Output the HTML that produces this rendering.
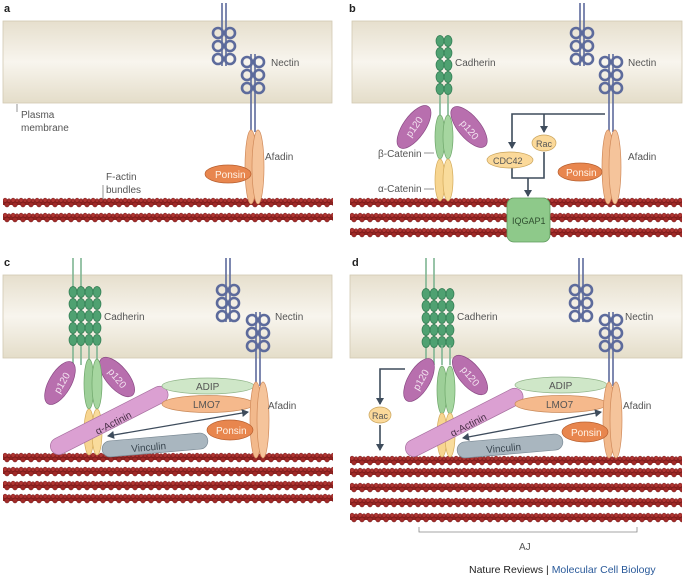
<!DOCTYPE html>
<html><head><meta charset="utf-8"><style>
html,body{margin:0;padding:0;background:#fff}
svg{display:block}
text{font-family:"Liberation Sans",sans-serif;font-size:10px;fill:#555}
.pl{font-weight:bold;font-size:11px;fill:#222}
</style></head><body>
<svg width="685" height="577" viewBox="0 0 685 577" xmlns="http://www.w3.org/2000/svg">
<defs>
<linearGradient id="mem" x1="0" y1="0" x2="0" y2="1">
<stop offset="0" stop-color="#e6dfcd"/><stop offset="0.5" stop-color="#f8f5ee"/><stop offset="1" stop-color="#e4ddc9"/>
</linearGradient>
<pattern id="act" patternUnits="userSpaceOnUse" x="0" y="0" width="8" height="11">
<rect x="0" y="3" width="8" height="5" fill="#8e2220"/>
<circle cx="2.1" cy="3.2" r="2.1" fill="#b03532" stroke="#741616" stroke-width="0.5"/>
<circle cx="6" cy="3.6" r="1.9" fill="#a8302e" stroke="#741616" stroke-width="0.5"/>
<circle cx="4" cy="7.6" r="2.4" fill="#a02a28" stroke="#741616" stroke-width="0.5"/>
</pattern>
<rect id="rowA" x="0" y="0" width="330" height="11" fill="url(#act)"/>
<rect id="rowB" x="0" y="0" width="332" height="11" fill="url(#act)"/>
<g id="loops" fill="none" stroke="#5d6b9c" stroke-width="2.6">
<circle cx="-6" cy="0" r="5"/><circle cx="6" cy="0" r="5"/>
<circle cx="-6" cy="13" r="5"/><circle cx="6" cy="13" r="5"/>
<circle cx="-6" cy="26" r="5"/><circle cx="6" cy="26" r="5"/>
</g>
<g id="bead2" fill="#4fa171" stroke="#2f7a50" stroke-width="0.7">
<ellipse cx="0" cy="0" rx="4" ry="5.5"/><ellipse cx="0" cy="12" rx="4" ry="5.5"/><ellipse cx="0" cy="24" rx="4" ry="5.5"/><ellipse cx="0" cy="36" rx="4" ry="5.5"/><ellipse cx="0" cy="48" rx="4" ry="5.5"/>
</g>
<marker id="ah" markerWidth="8" markerHeight="8" refX="6" refY="4" orient="auto" markerUnits="userSpaceOnUse"><path d="M0,0 L7,4 L0,8 z" fill="#3e4c5c"/></marker>
<marker id="ahs" markerWidth="8" markerHeight="8" refX="1" refY="4" orient="auto" markerUnits="userSpaceOnUse"><path d="M7,0 L0,4 L7,8 z" fill="#3e4c5c"/></marker>
</defs>

<text x="4" y="12" class="pl">a</text>
<text x="349" y="12" class="pl">b</text>
<text x="4" y="266" class="pl">c</text>
<text x="352" y="266" class="pl">d</text>

<rect x="3" y="21" width="329" height="82" fill="url(#mem)" stroke="#d2c9b2" stroke-width="0.8"/>
<rect x="352" y="21" width="330" height="82" fill="url(#mem)" stroke="#d2c9b2" stroke-width="0.8"/>
<rect x="3" y="275" width="329" height="83" fill="url(#mem)" stroke="#d2c9b2" stroke-width="0.8"/>
<rect x="350" y="275" width="332" height="83" fill="url(#mem)" stroke="#d2c9b2" stroke-width="0.8"/>

<use href="#rowA" transform="translate(3,197)"/><use href="#rowA" transform="translate(3,212)"/>
<use href="#rowB" transform="translate(350,197)"/><use href="#rowB" transform="translate(350,212)"/><use href="#rowB" transform="translate(350,227)"/>
<use href="#rowA" transform="translate(3,452)"/><use href="#rowA" transform="translate(3,466)"/><use href="#rowA" transform="translate(3,480)"/><use href="#rowA" transform="translate(3,493)"/>
<use href="#rowB" transform="translate(350,455)"/><use href="#rowB" transform="translate(350,467)"/><use href="#rowB" transform="translate(350,482)"/><use href="#rowB" transform="translate(350,497)"/><use href="#rowB" transform="translate(350,512)"/>

<!-- Panel a -->
<g stroke="#5d6b9c" stroke-width="1.6">
<line x1="222" y1="3" x2="222" y2="66"/><line x1="226" y1="3" x2="226" y2="66"/>
<line x1="251" y1="54" x2="251" y2="132"/><line x1="255" y1="54" x2="255" y2="132"/>
</g>
<use href="#loops" x="224" y="33"/><use href="#loops" x="253" y="62"/>
<ellipse cx="251" cy="167" rx="6" ry="37" fill="#f2b98c" stroke="#d08a5a" stroke-width="0.7"/>
<ellipse cx="258" cy="167" rx="6" ry="37" fill="#f5c49b" stroke="#d08a5a" stroke-width="0.7"/>
<ellipse cx="228" cy="174" rx="23" ry="9" fill="#e8864e" stroke="#b86030" stroke-width="0.7"/>
<text x="215" y="178" style="fill:#fff4e8">Ponsin</text>
<text x="271" y="66">Nectin</text>
<text x="265" y="160">Afadin</text>
<line x1="17" y1="104" x2="17" y2="112" stroke="#666" stroke-width="0.7"/>
<text x="21" y="118">Plasma</text><text x="21" y="131">membrane</text>
<line x1="103" y1="185" x2="103" y2="200" stroke="#666" stroke-width="0.7"/>
<text x="106" y="180">F-actin</text><text x="106" y="193">bundles</text>

<!-- Panel b -->
<g stroke="#5d6b9c" stroke-width="1.6">
<line x1="580" y1="3" x2="580" y2="66"/><line x1="584" y1="3" x2="584" y2="66"/>
<line x1="609" y1="54" x2="609" y2="132"/><line x1="613" y1="54" x2="613" y2="132"/>
</g>
<use href="#loops" x="582" y="33"/><use href="#loops" x="611" y="62"/>
<ellipse cx="608" cy="167" rx="6" ry="37" fill="#f2b98c" stroke="#d08a5a" stroke-width="0.7"/>
<ellipse cx="615" cy="167" rx="6" ry="37" fill="#f5c49b" stroke="#d08a5a" stroke-width="0.7"/>
<text x="628" y="66">Nectin</text>
<text x="628" y="160">Afadin</text>
<ellipse cx="580" cy="172" rx="22" ry="9" fill="#e8864e" stroke="#b86030" stroke-width="0.7"/>
<text x="566" y="176" style="fill:#fff4e8">Ponsin</text>
<g stroke="#7fb592" stroke-width="1.6"><line x1="440" y1="40" x2="440" y2="118"/><line x1="448" y1="40" x2="448" y2="118"/></g>
<use href="#bead2" x="440" y="41"/><use href="#bead2" x="448" y="41"/>
<text x="455" y="66">Cadherin</text>
<ellipse cx="414" cy="127" rx="25" ry="11" transform="rotate(-55 414 127)" fill="#b86fae" stroke="#8a4a84" stroke-width="0.7"/>
<ellipse cx="469" cy="127" rx="25" ry="11" transform="rotate(50 469 127)" fill="#b86fae" stroke="#8a4a84" stroke-width="0.7"/>
<text x="404" y="133" transform="rotate(-55 412 129)" style="fill:#f3e3f0">p120</text>
<text x="460" y="131" transform="rotate(50 468 127)" style="fill:#f3e3f0">p120</text>
<ellipse cx="440" cy="137" rx="5" ry="22" fill="#9dcf98" stroke="#6ea66a" stroke-width="0.7"/>
<ellipse cx="448" cy="137" rx="5" ry="22" fill="#a6d6a0" stroke="#6ea66a" stroke-width="0.7"/>
<ellipse cx="440" cy="180" rx="5" ry="21" fill="#f7d590" stroke="#d4aa5a" stroke-width="0.7"/>
<ellipse cx="448" cy="180" rx="5" ry="21" fill="#f9dc9c" stroke="#d4aa5a" stroke-width="0.7"/>
<text x="378" y="157">β-Catenin</text><line x1="424" y1="153" x2="434" y2="153" stroke="#666" stroke-width="0.7"/>
<text x="378" y="192">α-Catenin</text><line x1="424" y1="189" x2="434" y2="189" stroke="#666" stroke-width="0.7"/>
<g fill="none" stroke="#3e4c5c" stroke-width="1.6">
<path d="M605 114 H512 V148" marker-end="url(#ah)"/>
<path d="M544 114 V132" marker-end="url(#ah)"/>
<path d="M512 168 V178 H544 V152"/>
<path d="M528 178 V196" marker-end="url(#ah)"/>
</g>
<ellipse cx="544" cy="143" rx="12" ry="8" fill="#fbd99a" stroke="#c9a35a" stroke-width="0.7"/>
<text x="536" y="147" style="font-size:9px">Rac</text>
<ellipse cx="510" cy="160" rx="23" ry="8" fill="#fbd99a" stroke="#c9a35a" stroke-width="0.7"/>
<text x="493" y="164" style="font-size:9px">CDC42</text>
<rect x="507" y="198" width="43" height="44" rx="7" fill="#8ec98a" stroke="#5f9a5c" stroke-width="0.8"/>
<text x="512" y="224" style="font-size:9px;fill:#2f4f2f">IQGAP1</text>

<!-- Panel c -->
<g>
<g stroke="#5d6b9c" stroke-width="1.6">
<line x1="226" y1="258" x2="226" y2="322"/><line x1="230" y1="258" x2="230" y2="322"/>
<line x1="256" y1="312" x2="256" y2="386"/><line x1="260" y1="312" x2="260" y2="386"/>
</g>
<use href="#loops" x="228" y="290"/><use href="#loops" x="258" y="320"/>
<g stroke="#7fb592" stroke-width="1.6"><line x1="73" y1="258" x2="73" y2="365"/><line x1="81" y1="258" x2="81" y2="365"/></g>
<use href="#bead2" x="73" y="292"/><use href="#bead2" x="81" y="292"/><use href="#bead2" x="89" y="292"/><use href="#bead2" x="97" y="292"/>
<line x1="89" y1="345" x2="89" y2="362" stroke="#7fb592" stroke-width="1.6"/><line x1="97" y1="345" x2="97" y2="362" stroke="#7fb592" stroke-width="1.6"/>
<ellipse cx="60" cy="383" rx="24" ry="11" transform="rotate(-60 60 383)" fill="#b86fae" stroke="#8a4a84" stroke-width="0.7"/>
<ellipse cx="117" cy="377" rx="24" ry="11" transform="rotate(50 117 377)" fill="#b86fae" stroke="#8a4a84" stroke-width="0.7"/>
<text x="50" y="388" transform="rotate(-60 60 383)" style="fill:#f3e3f0">p120</text>
<text x="107" y="381" transform="rotate(50 117 377)" style="fill:#f3e3f0">p120</text>
<ellipse cx="89" cy="384" rx="5" ry="25" fill="#9dcf98" stroke="#6ea66a" stroke-width="0.7"/>
<ellipse cx="97" cy="384" rx="5" ry="25" fill="#a6d6a0" stroke="#6ea66a" stroke-width="0.7"/>
<ellipse cx="89" cy="432" rx="5" ry="23" fill="#f7d590" stroke="#d4aa5a" stroke-width="0.7"/>
<ellipse cx="97" cy="432" rx="5" ry="23" fill="#f9dc9c" stroke="#d4aa5a" stroke-width="0.7"/>
<rect x="44" y="412" width="130" height="17" rx="8.5" transform="rotate(-27 109 420)" fill="#dba0d2" stroke="#a870a0" stroke-width="0.7"/>
<text x="92" y="428" transform="rotate(-27 109 420)" style="fill:#4a3048">α-Actinin</text>
<ellipse cx="208" cy="386" rx="46" ry="8" fill="#cfe7c8" stroke="#90b488" stroke-width="0.7"/>
<text x="196" y="390">ADIP</text>
<ellipse cx="208" cy="404" rx="46" ry="8.5" fill="#f5b98c" stroke="#c98a5a" stroke-width="0.7"/>
<text x="193" y="408">LMO7</text>
<rect x="102" y="437" width="106" height="16" rx="8" transform="rotate(-5 155 445)" fill="#a9b6bf" stroke="#7b8a95" stroke-width="0.7"/>
<text x="131" y="450" transform="rotate(-5 155 445)" style="fill:#3a4650">Vinculin</text>
<ellipse cx="256" cy="420" rx="6" ry="38" fill="#f2b98c" stroke="#d08a5a" stroke-width="0.7"/>
<ellipse cx="263" cy="420" rx="6" ry="38" fill="#f5c49b" stroke="#d08a5a" stroke-width="0.7"/>
<ellipse cx="230" cy="430" rx="23" ry="10" fill="#e8864e" stroke="#b86030" stroke-width="0.7"/>
<text x="216" y="434" style="fill:#fff4e8">Ponsin</text>
<line x1="108" y1="436" x2="248" y2="412" stroke="#3e4c5c" stroke-width="1.3" marker-start="url(#ahs)" marker-end="url(#ah)"/>
<text x="104" y="320">Cadherin</text>
<text x="275" y="320">Nectin</text>
<text x="268" y="409">Afadin</text>
</g>

<!-- Panel d -->
<g transform="translate(353,0)">
<g stroke="#5d6b9c" stroke-width="1.6">
<line x1="226" y1="258" x2="226" y2="322"/><line x1="230" y1="258" x2="230" y2="322"/>
<line x1="256" y1="312" x2="256" y2="386"/><line x1="260" y1="312" x2="260" y2="386"/>
</g>
<use href="#loops" x="228" y="290"/><use href="#loops" x="258" y="320"/>
<g stroke="#7fb592" stroke-width="1.6"><line x1="73" y1="258" x2="73" y2="365"/><line x1="81" y1="258" x2="81" y2="365"/></g>
<use href="#bead2" x="73" y="294"/><use href="#bead2" x="81" y="294"/><use href="#bead2" x="89" y="294"/><use href="#bead2" x="97" y="294"/>
<line x1="89" y1="345" x2="89" y2="365" stroke="#7fb592" stroke-width="1.6"/><line x1="97" y1="345" x2="97" y2="365" stroke="#7fb592" stroke-width="1.6"/>
<ellipse cx="66" cy="380" rx="24" ry="11" transform="rotate(-60 66 380)" fill="#b86fae" stroke="#8a4a84" stroke-width="0.7"/>
<ellipse cx="117" cy="375" rx="24" ry="11" transform="rotate(50 117 375)" fill="#b86fae" stroke="#8a4a84" stroke-width="0.7"/>
<text x="56" y="385" transform="rotate(-60 66 380)" style="fill:#f3e3f0">p120</text>
<text x="107" y="379" transform="rotate(50 117 375)" style="fill:#f3e3f0">p120</text>
<ellipse cx="89" cy="390" rx="5" ry="24" fill="#9dcf98" stroke="#6ea66a" stroke-width="0.7"/>
<ellipse cx="97" cy="390" rx="5" ry="24" fill="#a6d6a0" stroke="#6ea66a" stroke-width="0.7"/>
<ellipse cx="89" cy="435" rx="5" ry="22" fill="#f7d590" stroke="#d4aa5a" stroke-width="0.7"/>
<ellipse cx="97" cy="435" rx="5" ry="22" fill="#f9dc9c" stroke="#d4aa5a" stroke-width="0.7"/>
<rect x="46" y="414" width="130" height="17" rx="8.5" transform="rotate(-27 111 422)" fill="#dba0d2" stroke="#a870a0" stroke-width="0.7"/>
<text x="94" y="430" transform="rotate(-27 111 422)" style="fill:#4a3048">α-Actinin</text>
<ellipse cx="208" cy="385" rx="46" ry="8" fill="#cfe7c8" stroke="#90b488" stroke-width="0.7"/>
<text x="196" y="389">ADIP</text>
<ellipse cx="208" cy="404" rx="46" ry="8.5" fill="#f5b98c" stroke="#c98a5a" stroke-width="0.7"/>
<text x="193" y="408">LMO7</text>
<rect x="104" y="438" width="106" height="16" rx="8" transform="rotate(-5 157 446)" fill="#a9b6bf" stroke="#7b8a95" stroke-width="0.7"/>
<text x="133" y="451" transform="rotate(-5 157 446)" style="fill:#3a4650">Vinculin</text>
<ellipse cx="256" cy="420" rx="6" ry="38" fill="#f2b98c" stroke="#d08a5a" stroke-width="0.7"/>
<ellipse cx="263" cy="420" rx="6" ry="38" fill="#f5c49b" stroke="#d08a5a" stroke-width="0.7"/>
<ellipse cx="232" cy="432" rx="23" ry="10" fill="#e8864e" stroke="#b86030" stroke-width="0.7"/>
<text x="218" y="436" style="fill:#fff4e8">Ponsin</text>
<line x1="110" y1="438" x2="248" y2="412" stroke="#3e4c5c" stroke-width="1.3" marker-start="url(#ahs)" marker-end="url(#ah)"/>
<text x="104" y="320">Cadherin</text>
<text x="272" y="320">Nectin</text>
<text x="270" y="409">Afadin</text>
<g fill="none" stroke="#3e4c5c" stroke-width="1.6">
<path d="M52 369 H27 V404" marker-end="url(#ah)"/>
<path d="M27 425 V450" marker-end="url(#ah)"/>
</g>
<ellipse cx="27" cy="415" rx="11" ry="8" fill="#fbd99a" stroke="#c9a35a" stroke-width="0.7"/>
<text x="19" y="419" style="font-size:9px">Rac</text>
</g>

<path d="M419 527 V532 H637 V527" fill="none" stroke="#888" stroke-width="0.8"/>
<text x="519" y="550">AJ</text>
<text x="469" y="573" style="font-size:10.5px;fill:#222">Nature Reviews | <tspan style="fill:#2a5a9a">Molecular Cell Biology</tspan></text>
</svg>
</body></html>
